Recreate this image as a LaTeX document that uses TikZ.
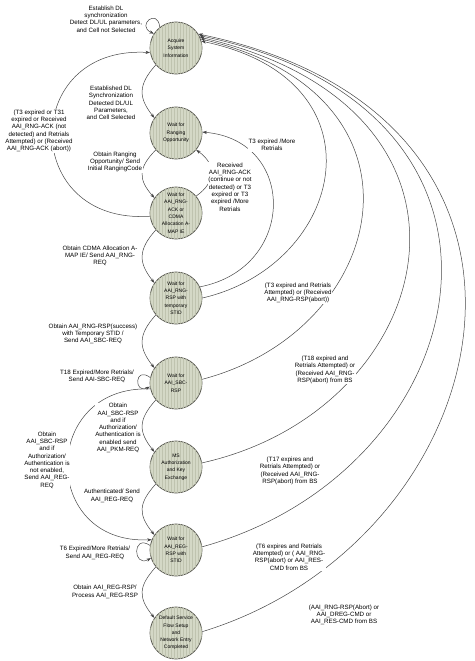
\documentclass[tikz,border=0pt]{standalone}
\usepackage{fontspec}
\setmainfont{Liberation Sans}
\usetikzlibrary{arrows.meta,patterns}
\definecolor{statefill}{HTML}{D4D8C6}
\definecolor{statestripe}{HTML}{BFC3AF}
\definecolor{stategray}{HTML}{5A5A52}
\definecolor{linegray}{HTML}{474747}
\begin{document}
\begin{tikzpicture}[x=1pt,y=-1pt,
  state/.style={circle, minimum size=52pt, inner sep=0pt, draw=stategray, line width=0.8pt,
    fill=statefill, align=center, font=\fontsize{5}{7.3}\selectfont,
    postaction={pattern=vertical lines, pattern color=statestripe}},
  lbl/.style={align=center, font=\fontsize{6.2}{7.3}\selectfont, fill=white, inner sep=0.6pt},
  conn/.style={draw=linegray, line width=0.5pt, -{Stealth[length=4.5pt,width=3.2pt,fill=black]}},
]
\useasboundingbox (0,0) rectangle (474,661);

% states
\node[state] (c1) at (176,48) {Acquire\\System\\Information};
\node[state] (c2) at (176,133) {Wait for\\Ranging\\Opportunity};
\node[state] (c3) at (176,213) {Wait for\\AAI\_RNG-\\ACK or\\CDMA\\Allocation A-\\MAP IE};
\node[state] (c4) at (176,298) {Wait for\\AAI\_RNG-\\RSP with\\temporary\\STID};
\node[state] (c5) at (176,383) {Wait for\\AAI\_SBC-\\RSP};
\node[state] (c6) at (176,467) {MS\\Authorization\\and Key\\Exchange};
\node[state] (c7) at (176,550) {Wait for\\AAI\_REG-\\RSP with\\STID};
\node[state] (c8) at (176,633) {Default Service\\Flow Setup\\and\\Network Entry\\Completed};

% sequential transitions
\draw[conn] (c1.220) .. controls +(-18,20) and +(-16,-20) .. (c2.145);
\draw[conn] (c2.220) .. controls +(-18,18) and +(-16,-18) .. (c3.145);
\draw[conn] (c3.220) .. controls +(-18,20) and +(-16,-20) .. (c4.145);
\draw[conn] (c4.220) .. controls +(-18,20) and +(-16,-20) .. (c5.145);
\draw[conn] (c5.220) .. controls +(-18,20) and +(-16,-20) .. (c6.145);
\draw[conn] (c6.220) .. controls +(-18,20) and +(-16,-20) .. (c7.145);
\draw[conn] (c7.220) .. controls +(-18,20) and +(-16,-20) .. (c8.145);

% self loops
\draw[conn] (c1.128) .. controls +(-2,-20) and +(-18,-8) .. (c1.147);
\draw[conn] (c5.168) .. controls +(-16,-12) and +(-16,8) .. (c5.188);
\draw[conn] (c7.170) .. controls +(-18,-12) and +(-18,10) .. (c7.198);

% left big arcs
\draw[conn] (c3.187) .. controls (20,225) and (20,45) .. (c1.190);
\draw[conn] (c5.193) .. controls (40,385) and (40,545) .. (c7.157);

% right arcs
\draw[conn] (c3.40) .. controls +(20,-14) and +(20,14) .. (c2.-40);
\draw[conn] (c4.25) .. controls (297,268) and (297,140) .. (c2.2);
\draw[conn] (c4.0) .. controls (345,265) and (388,80) .. (c1.15);
\draw[conn] (c5.8) .. controls (390,330) and (442,95) .. (c1.20);
\draw[conn] (c6.9) .. controls (440,410) and (515,110) .. (c1.24);
\draw[conn] (c7.7) .. controls (480,470) and (560,110) .. (c1.28);
\draw[conn] (c8.3) .. controls (502,540) and (601,117) .. (c1.32);

% labels
\node[lbl] (l1) at (106,19) {Establish DL\\synchronization\\Detect DL/UL parameters,\\and Cell not Selected};
\node[lbl] (l2) at (111,103) {Established DL\\Synchronization\\Detected DL/UL\\Parameters,\\and Cell Selected};
\node[lbl] (l3) at (39,131) {(T3 expired or T31\\expired or Received\\AAI\_RNG-ACK (not\\detected) and Retrials\\Attempted) or (Received\\AAI\_RNG-ACK (abort))};
\node[lbl] (l4) at (115,162) {Obtain Ranging\\Opportunity/ Send\\Initial RangingCode};
\node[lbl] (l5) at (230,187) {Received\\AAI\_RNG-ACK\\(continue or not\\detected) or T3\\expired or T3\\expired /More\\Retrials};
\node[lbl] (l6) at (272,145) {T3 expired /More\\Retrials};
\node[lbl] (l7) at (100,256) {Obtain CDMA Allocation A-\\MAP IE/ Send AAI\_RNG-\\REQ};
\node[lbl] (l8) at (298,293) {(T3 expired and Retrials\\Attempted) or (Received\\AAI\_RNG-RSP(abort))};
\node[lbl] (l9) at (93,334) {Obtain AAI\_RNG-RSP(success)\\with Temporary STID /\\Send AAI\_SBC-REQ};
\node[lbl] (l10) at (97,376) {T18 Expired/More Retrials/\\Send AAI-SBC-REQ};
\node[lbl] (l11) at (325,370) {(T18 expired and\\Retrials Attempted) or\\(Received AAI\_RNG-\\RSP(abort) from BS};
\node[lbl] (l12) at (118,428) {Obtain\\AAI\_SBC-RSP\\and if\\Authorization/\\Authentication is\\enabled send\\AAI\_PKM-REQ};
\node[lbl] (l13) at (47,460) {Obtain\\AAI\_SBC-RSP\\and if\\Authorization/\\Authentication is\\not enabled,\\Send AAI\_REG-\\REQ};
\node[lbl] (l14) at (290,471) {(T17 expires and\\Retrials Attempted) or\\(Received AAI\_RNG-\\RSP(abort) from BS};
\node[lbl] (l15) at (112,496) {Authenticated/ Send\\AAI\_REG-REQ};
\node[lbl] (l16) at (95,553) {T6 Expired/More Retrials/\\Send AAI\_REG-REQ};
\node[lbl] (l17) at (289,557) {(T6 expires and Retrials\\Attempted) or ( AAI\_RNG-\\RSP(abort) or AAI\_RES-\\CMD from BS};
\node[lbl] (l18) at (105,592) {Obtain AAI\_REG-RSP/\\Process AAI\_REG-RSP};
\node[lbl] (l19) at (344,615) {(AAI\_RNG-RSP(Abort) or\\AAI\_DREG-CMD or\\AAI\_RES-CMD from BS};
\end{tikzpicture}
\end{document}
